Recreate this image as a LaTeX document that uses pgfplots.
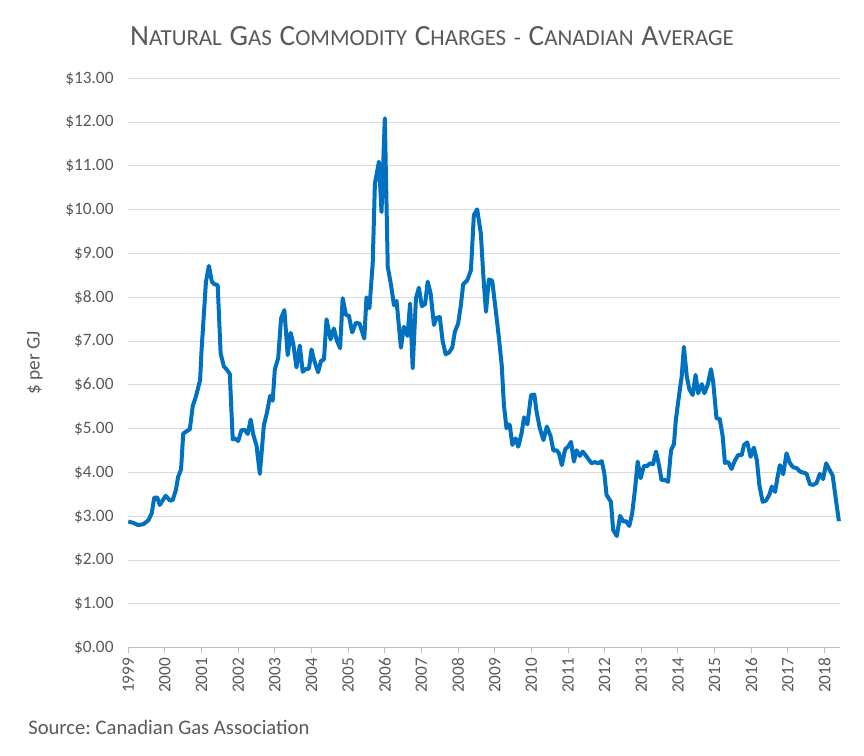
\documentclass[border=0pt]{standalone}
\usepackage{pgfplots}
\pgfplotsset{compat=1.18}
\usepackage{fontspec}
\setmainfont{Carlito}
\frenchspacing
\definecolor{linecol}{HTML}{0070C0}
\definecolor{txt}{HTML}{595959}
\definecolor{gridc}{HTML}{D9D9D9}
\definecolor{axisc}{HTML}{BFBFBF}
\newcommand\TBig[1]{{\fontsize{22}{22}\selectfont #1}}
\newcommand\TSm[1]{{\fontsize{17.2}{17.2}\selectfont #1}}
\newcommand\TS{\hspace{5.8pt}}
\begin{document}
\begin{tikzpicture}
\useasboundingbox (0,0) rectangle (648pt,567pt);
\begin{axis}[
  at={(96.2pt,81.2pt)}, anchor=south west,
  width=533.8pt, height=427pt, scale only axis,
  xmin=1999, xmax=2018.42, ymin=0, ymax=13,
  axis x line*=bottom, axis y line*=left,
  x axis line style={draw=axisc, line width=0.75pt, -},
  y axis line style={draw=none},
  xtick={1999,...,2018},
  xticklabels={1999,2000,2001,2002,2003,2004,2005,2006,2007,2008,2009,2010,2011,2012,2013,2014,2015,2016,2017,2018},
  x tick label style={rotate=90, anchor=east, font=\fontsize{13}{13}\selectfont, text=txt},
  xtick style={draw=axisc, line width=0.75pt},
  tick align=outside, major tick length=4pt,
  ytick={0,...,13},
  yticklabels={\$0.00,\$1.00,\$2.00,\$3.00,\$4.00,\$5.00,\$6.00,\$7.00,\$8.00,\$9.00,\$10.00,\$11.00,\$12.00,\$13.00},
  y tick label style={font=\fontsize{13}{13}\selectfont, text=txt, anchor=east, xshift=-3.5pt},
  ytick style={draw=none},
  ymajorgrids, grid style={draw=gridc, line width=0.75pt},
  clip=false,
]
\addplot[linecol, line width=3pt, line join=round] table {
x y
1999.00 2.88
1999.14 2.85
1999.27 2.80
1999.41 2.82
1999.55 2.91
1999.64 3.07
1999.71 3.43
1999.79 3.43
1999.86 3.26
2000.02 3.47
2000.14 3.36
2000.21 3.37
2000.30 3.60
2000.36 3.90
2000.44 4.07
2000.50 4.89
2000.57 4.93
2000.68 4.99
2000.76 5.52
2000.85 5.75
2000.96 6.11
2001.00 6.80
2001.07 7.71
2001.12 8.36
2001.20 8.72
2001.28 8.36
2001.35 8.30
2001.44 8.28
2001.52 6.72
2001.61 6.42
2001.68 6.36
2001.77 6.25
2001.85 4.76
2001.91 4.78
2002.00 4.72
2002.09 4.97
2002.18 4.97
2002.26 4.88
2002.34 5.21
2002.41 4.87
2002.50 4.61
2002.59 3.97
2002.70 5.08
2002.78 5.35
2002.87 5.75
2002.94 5.64
2003.00 6.36
2003.09 6.61
2003.17 7.52
2003.26 7.71
2003.35 6.68
2003.43 7.19
2003.50 6.95
2003.59 6.40
2003.68 6.90
2003.76 6.30
2003.85 6.37
2003.93 6.37
2004.00 6.81
2004.07 6.57
2004.18 6.29
2004.26 6.55
2004.34 6.58
2004.41 7.50
2004.52 7.04
2004.61 7.29
2004.69 7.02
2004.78 6.84
2004.85 7.98
2004.94 7.60
2005.02 7.58
2005.11 7.20
2005.21 7.42
2005.31 7.40
2005.44 7.06
2005.50 8.00
2005.58 7.75
2005.67 8.78
2005.73 10.60
2005.84 11.10
2005.91 9.95
2006.00 12.09
2006.08 8.70
2006.17 8.28
2006.25 7.82
2006.32 7.92
2006.44 6.85
2006.52 7.33
2006.62 7.12
2006.69 7.86
2006.76 6.38
2006.85 7.98
2006.93 8.22
2007.01 7.80
2007.10 7.85
2007.17 8.36
2007.25 8.09
2007.34 7.37
2007.41 7.53
2007.50 7.55
2007.58 6.99
2007.66 6.70
2007.75 6.74
2007.84 6.85
2007.91 7.21
2008.00 7.40
2008.07 7.79
2008.14 8.30
2008.25 8.39
2008.35 8.62
2008.43 9.88
2008.52 10.01
2008.62 9.46
2008.69 8.47
2008.76 7.67
2008.84 8.41
2008.93 8.38
2009.02 7.75
2009.11 7.10
2009.19 6.45
2009.25 5.54
2009.32 5.01
2009.37 5.10
2009.41 5.08
2009.48 4.63
2009.57 4.78
2009.64 4.59
2009.73 4.89
2009.80 5.26
2009.89 5.10
2009.99 5.77
2010.08 5.78
2010.14 5.39
2010.23 5.01
2010.33 4.74
2010.42 5.05
2010.52 4.84
2010.60 4.50
2010.69 4.51
2010.75 4.44
2010.83 4.17
2010.92 4.53
2011.01 4.60
2011.08 4.70
2011.16 4.25
2011.23 4.51
2011.32 4.38
2011.40 4.48
2011.51 4.36
2011.64 4.21
2011.73 4.24
2011.82 4.21
2011.92 4.26
2011.99 3.98
2012.05 3.49
2012.17 3.33
2012.23 2.69
2012.33 2.55
2012.42 3.01
2012.51 2.88
2012.58 2.89
2012.67 2.78
2012.75 3.07
2012.83 3.64
2012.90 4.25
2012.98 3.87
2013.07 4.15
2013.16 4.15
2013.23 4.21
2013.32 4.19
2013.40 4.48
2013.48 4.17
2013.55 3.83
2013.64 3.83
2013.73 3.79
2013.81 4.51
2013.89 4.65
2013.94 5.20
2014.03 5.77
2014.10 6.19
2014.16 6.87
2014.24 6.19
2014.31 5.90
2014.40 5.77
2014.48 6.23
2014.55 5.81
2014.65 6.02
2014.72 5.81
2014.81 6.00
2014.90 6.36
2014.96 6.07
2015.05 5.24
2015.14 5.22
2015.22 4.82
2015.28 4.22
2015.37 4.24
2015.46 4.08
2015.55 4.27
2015.64 4.40
2015.74 4.40
2015.80 4.63
2015.89 4.69
2015.98 4.36
2016.07 4.57
2016.15 4.29
2016.22 3.71
2016.31 3.33
2016.40 3.36
2016.49 3.49
2016.56 3.68
2016.65 3.56
2016.71 3.87
2016.78 4.17
2016.87 3.96
2016.96 4.44
2017.05 4.22
2017.14 4.12
2017.24 4.10
2017.33 4.02
2017.42 4.00
2017.51 3.97
2017.60 3.73
2017.69 3.72
2017.78 3.76
2017.87 3.97
2017.96 3.85
2018.04 4.21
2018.13 4.07
2018.22 3.93
2018.31 3.37
2018.39 2.89
};
\end{axis}
\node[text=txt, anchor=center] at (324pt,540pt) {\TBig{N}\TSm{ATURAL}\TS\TBig{G}\TSm{AS}\TS\TBig{C}\TSm{OMMODITY}\TS\TBig{C}\TSm{HARGES}\TS\TSm{-}\TS\TBig{C}\TSm{ANADIAN}\TS\TBig{A}\TSm{VERAGE}};
\node[text=txt, rotate=90, font=\fontsize{14.5}{14.5}\selectfont] at (26.25pt,294.75pt) {\$ per GJ};
\node[text=txt, anchor=west, font=\fontsize{15.5}{15.5}\selectfont, inner sep=0pt] at (21pt,21.75pt) {Source: Canadian Gas Association};
\end{tikzpicture}
\end{document}
